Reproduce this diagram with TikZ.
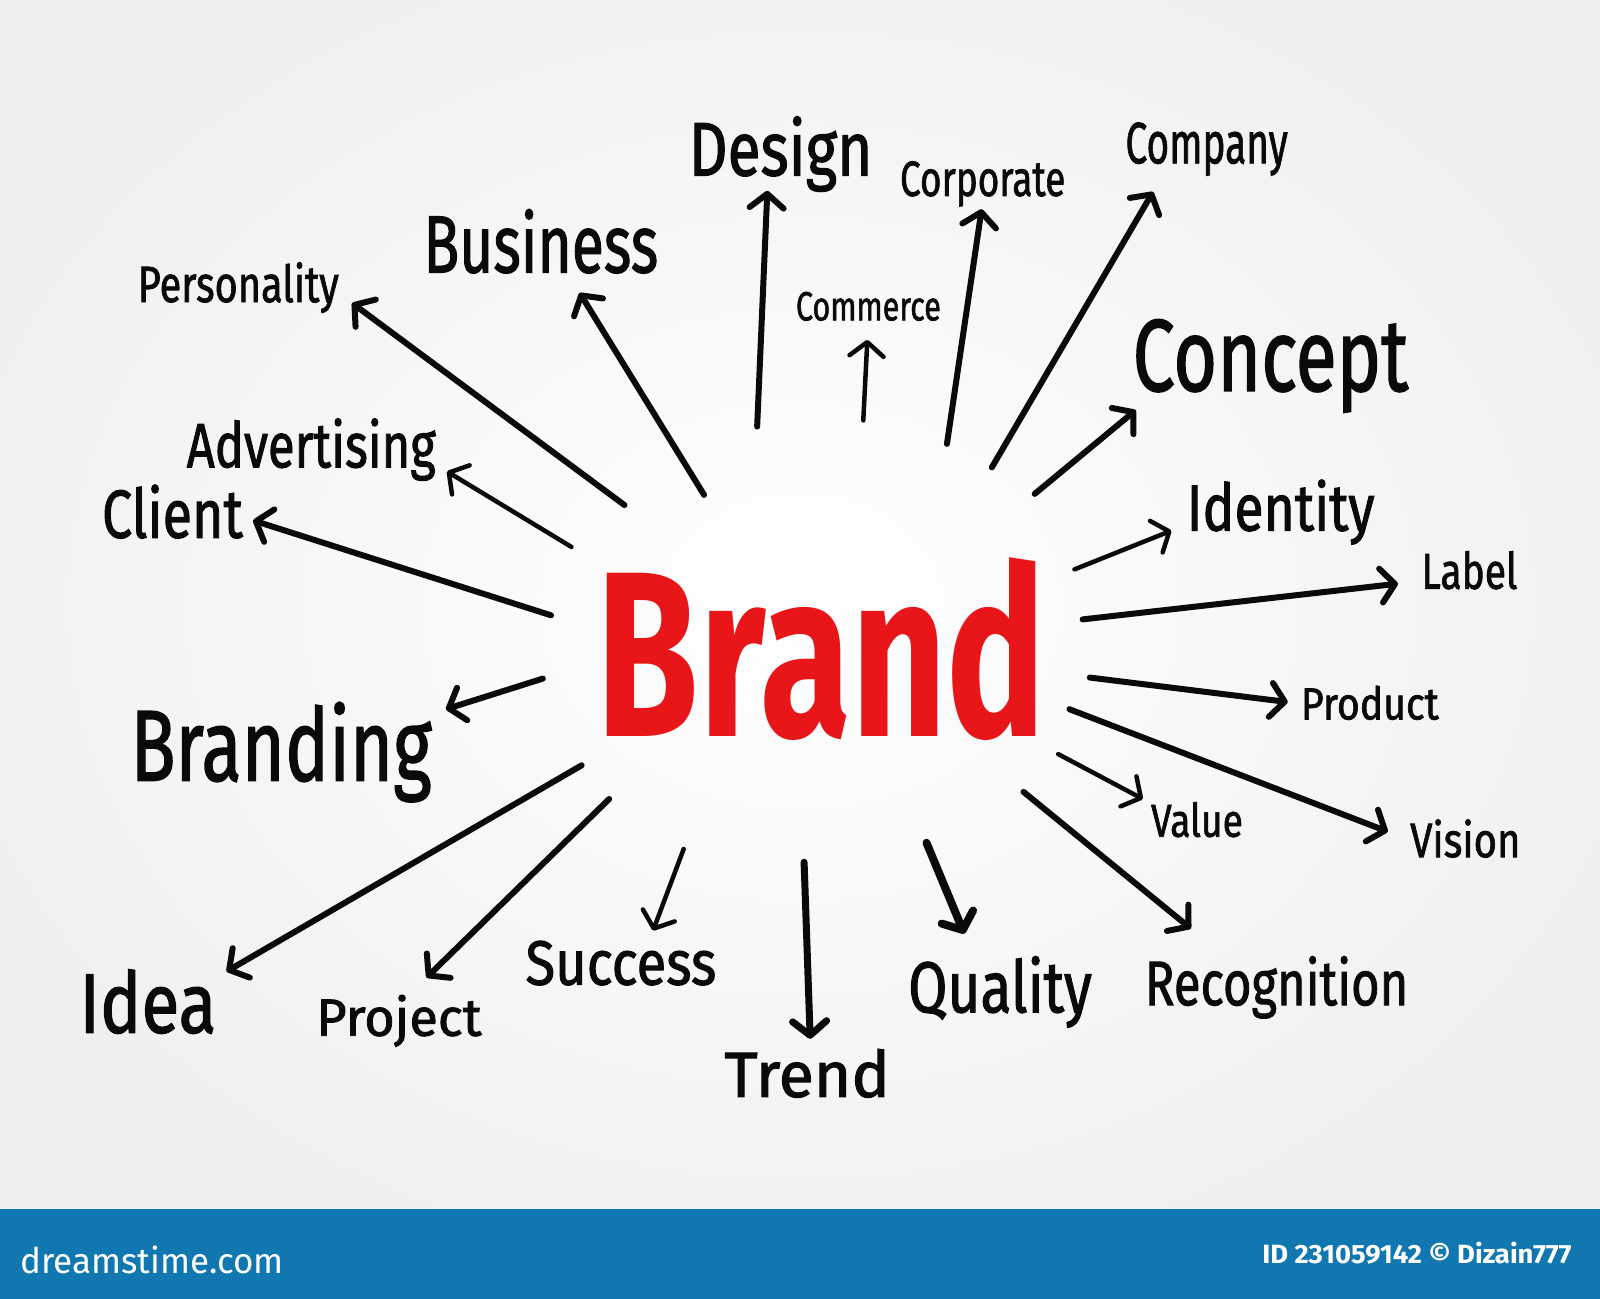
\documentclass[tikz,border=0pt]{standalone}
\usepackage{fontspec}
\setmainfont{Fira Sans}
\newfontfamily\lblfont{Fira Sans}[FakeBold=1.6]
\usetikzlibrary{arrows.meta}
\newdimen\pu \pu=1.0204pt
\newcommand\fitlbl[3]{\resizebox{#1\pu}{#2\pu}{#3}}
\definecolor{brandred}{RGB}{232,22,24}
\definecolor{barblue}{RGB}{16,119,176}
\definecolor{inkblack}{RGB}{10,10,10}
\begin{document}
\begin{tikzpicture}[x=1.0204pt,y=-1.0204pt,
  lbl/.style={anchor=base west, inner sep=0pt, outer sep=0pt, text=inkblack, font=\lblfont},
  arr/.style={draw=inkblack, line width=6pt, line cap=round, line join=round,
    -{Straight Barb[length=14pt,width=34pt,round]}},
  arrthin/.style={arr, line width=4.5pt}]
\useasboundingbox (0,0) rectangle (1568,1273);
% background
\shade[inner color=white, outer color=black!6] (-100,-100) rectangle (1668,1285);
\fill[barblue] (0,1185) rectangle (1568,1273);
% watermark bar texts
\node[lbl, text=white, font=\rmfamily] (dt) at (20,1248) {\fitlbl{258}{27}{dreamstime.com}};
\node[lbl, text=white, font=\rmfamily] (id) at (1237,1238) {\fitlbl{303}{21}{\bfseries ID 231059142 © Dizain777}};

% central word
\node[lbl, text=brandred, font=\rmfamily] (brand) at (585,722) {\fitlbl{440}{175}{\bfseries Brand}};

% labels
\node[lbl] (design)      at (675,172)  {\fitlbl{180}{58}{Design}};
\node[lbl] (business)    at (415,267)  {\fitlbl{230}{62}{Business}};
\node[lbl] (personality) at (135,296)  {\fitlbl{197}{39}{Personality}};
\node[lbl] (corporate)   at (882,192)  {\fitlbl{162}{34}{Corporate}};
\node[lbl] (company)     at (1103,160) {\fitlbl{159}{40}{Company}};
\node[lbl] (commerce)    at (780,314)  {\fitlbl{142}{28}{Commerce}};
\node[lbl] (concept)     at (1110,383) {\fitlbl{270}{70}{Concept}};
\node[lbl] (identity)    at (1163,520) {\fitlbl{184}{50}{Identity}};
\node[lbl] (label)       at (1393,577) {\fitlbl{94}{37}{Label}};
\node[lbl] (product)     at (1275,705) {\fitlbl{135}{33}{Product}};
\node[lbl] (value)       at (1128,820) {\fitlbl{90}{34}{Value}};
\node[lbl] (vision)      at (1382,840) {\fitlbl{108}{37}{Vision}};
\node[lbl] (recognition) at (1122,985) {\fitlbl{258}{48}{Recognition}};
\node[lbl] (quality)     at (890,992)  {\fitlbl{180}{55}{Quality}};
\node[lbl] (trend)       at (710,1075) {\fitlbl{162}{47}{Trend}};
\node[lbl] (success)     at (515,965)  {\fitlbl{187}{43}{Success}};
\node[lbl] (project)     at (310,1015) {\fitlbl{162}{40}{Project}};
\node[lbl] (idea)        at (78,1012)  {\fitlbl{134}{62}{Idea}};
\node[lbl] (branding)    at (128,765)  {\fitlbl{295}{77}{Branding}};
\node[lbl] (client)      at (100,527)  {\fitlbl{138}{52}{Client}};
\node[lbl] (advertising) at (183,458)  {\fitlbl{244}{48}{Advertising}};

% arrow end points
\coordinate (tPer) at (612,495);  \coordinate (hPer) at (345,297);
\coordinate (tBus) at (690,485);  \coordinate (hBus) at (568,287);
\coordinate (tDes) at (742,418);  \coordinate (hDes) at (752,187);
\coordinate (tCom) at (846,412);  \coordinate (hCom) at (850,333);
\coordinate (tCor) at (928,435);  \coordinate (hCor) at (962,205);
\coordinate (tCny) at (972,458);  \coordinate (hCny) at (1130,188);
\coordinate (tCon) at (1014,484); \coordinate (hCon) at (1113,402);
\coordinate (tIde) at (1053,558); \coordinate (hIde) at (1148,520);
\coordinate (tLab) at (1061,607); \coordinate (hLab) at (1370,572);
\coordinate (tPro) at (1068,664); \coordinate (hPro) at (1262,688);
\coordinate (tVis) at (1048,695); \coordinate (hVis) at (1360,815);
\coordinate (tVal) at (1037,739); \coordinate (hVal) at (1120,783);
\coordinate (tRec) at (1003,776); \coordinate (hRec) at (1167,910);
\coordinate (tQua) at (908,826);  \coordinate (hQua) at (945,915);
\coordinate (tTre) at (788,845);  \coordinate (hTre) at (794,1018);
\coordinate (tSuc) at (670,832);  \coordinate (hSuc) at (640,912);
\coordinate (tPrj) at (597,783);  \coordinate (hPrj) at (418,958);
\coordinate (tIdx) at (570,750);  \coordinate (hIdx) at (222,952);
\coordinate (tBrn) at (532,665);  \coordinate (hBrn) at (437,695);
\coordinate (tCli) at (540,603);  \coordinate (hCli) at (248,510);
\coordinate (tAdv) at (560,536);  \coordinate (hAdv) at (438,462);

\draw[arr] (tPer) -- (hPer);
\draw[arr] (tBus) -- (hBus);
\draw[arr] (tDes) -- (hDes);
\draw[arrthin] (tCom) -- (hCom);
\draw[arr] (tCor) -- (hCor);
\draw[arr] (tCny) -- (hCny);
\draw[arr] (tCon) -- (hCon);
\draw[arrthin] (tIde) -- (hIde);
\draw[arr] (tLab) -- (hLab);
\draw[arr] (tPro) -- (hPro);
\draw[arr] (tVis) -- (hVis);
\draw[arrthin] (tVal) -- (hVal);
\draw[arr] (tRec) -- (hRec);
\draw[arr, line width=8pt] (tQua) -- (hQua);
\draw[arr, line width=7pt] (tTre) -- (hTre);
\draw[arrthin] (tSuc) -- (hSuc);
\draw[arr] (tPrj) -- (hPrj);
\draw[arr] (tIdx) -- (hIdx);
\draw[arr] (tBrn) -- (hBrn);
\draw[arr] (tCli) -- (hCli);
\draw[arrthin] (tAdv) -- (hAdv);
\end{tikzpicture}
\end{document}
